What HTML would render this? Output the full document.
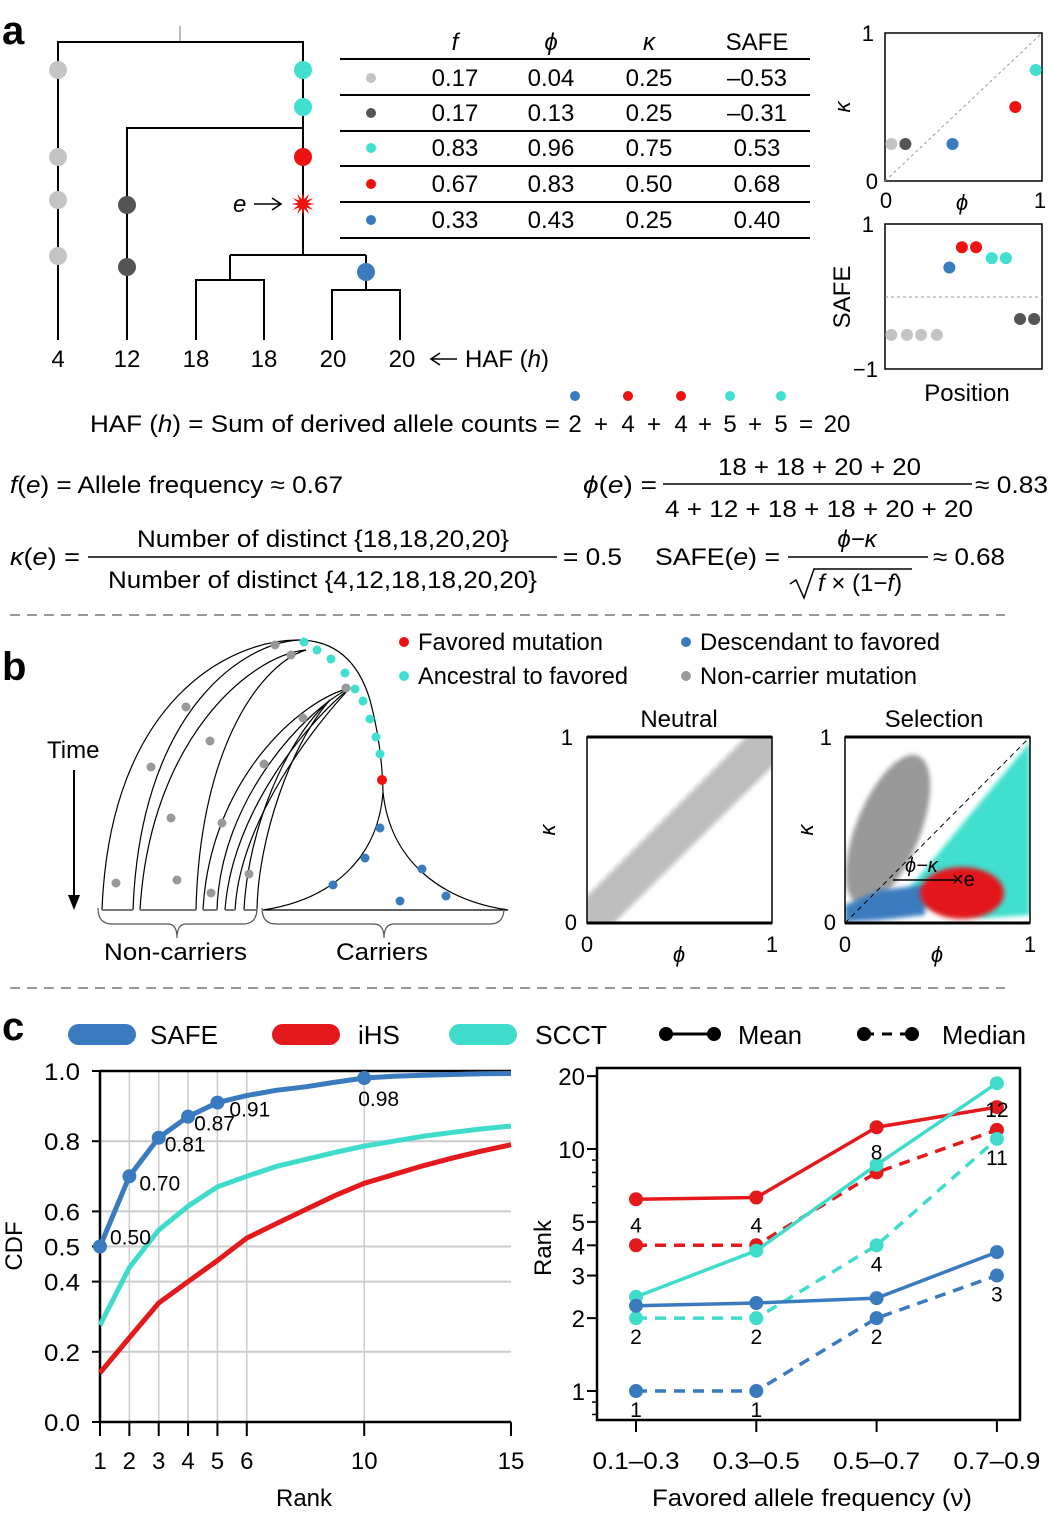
<!DOCTYPE html>
<html><head><meta charset="utf-8"><style>
html,body{margin:0;padding:0;background:#fff}
svg{display:block;font-family:"Liberation Sans",sans-serif}
</style></head><body>
<svg id="fig" width="1050" height="1515" viewBox="0 0 1050 1515" xmlns="http://www.w3.org/2000/svg">
<defs><filter id="bl" x="-20%" y="-20%" width="140%" height="140%"><feGaussianBlur stdDeviation="2.5"/></filter></defs>
<!-- PANEL A -->
<g>
<text x="2" y="44" font-size="40" font-weight="bold">a</text>
<g stroke="#000" stroke-width="2" fill="none">
<line x1="180" y1="26" x2="180" y2="42" stroke="#bbb"/>
<path d="M58,340 V42 H303 V255"/>
<path d="M127,340 V128 H303"/>
<path d="M230,255 H366 M230,255 V280 M196,340 V280 H264 V340 M366,255 V290 M332,340 V290 H400 V340"/>
</g>
<g>
<circle cx="58" cy="70" r="9" fill="#c4c4c4"/><circle cx="58" cy="157" r="9" fill="#c4c4c4"/><circle cx="58" cy="200" r="9" fill="#c4c4c4"/><circle cx="58" cy="256" r="9" fill="#c4c4c4"/>
<circle cx="127" cy="205" r="9" fill="#555"/><circle cx="127" cy="267" r="9" fill="#555"/>
<circle cx="303" cy="70" r="9" fill="#40dfcf"/><circle cx="303" cy="107" r="9" fill="#40dfcf"/>
<circle cx="303" cy="157" r="9" fill="#ee1111"/><circle cx="366" cy="272" r="9" fill="#3a7bbf"/>
<polygon id="star" fill="#ee1111"/>
</g>
<text x="233" y="212" font-size="24" font-style="italic">e</text>
<path d="M254,204 H280 M272,198 L281,204 L272,210" stroke="#000" stroke-width="1.6" fill="none"/>
<g font-size="24" text-anchor="middle">
<text x="58" y="367">4</text><text x="127" y="367">12</text><text x="196" y="367">18</text><text x="264" y="367">18</text><text x="333" y="367">20</text><text x="402" y="367">20</text>
</g>
<path d="M432,359 H457 M440,353 L431,359 L440,365" stroke="#000" stroke-width="1.6" fill="none"/>
<text x="465" y="367" font-size="24">HAF (<tspan font-style="italic">h</tspan>)</text>
<g font-size="24" text-anchor="middle">
<text x="455" y="50" font-style="italic">f</text><text x="551" y="50" font-style="italic">ϕ</text><text x="649" y="50" font-style="italic">κ</text><text x="757" y="50">SAFE</text>
<g stroke="#000" stroke-width="2"><line x1="340" y1="59" x2="810" y2="59"/><line x1="340" y1="95" x2="810" y2="95"/><line x1="340" y1="131" x2="810" y2="131"/><line x1="340" y1="166" x2="810" y2="166"/><line x1="340" y1="202" x2="810" y2="202"/><line x1="340" y1="238" x2="810" y2="238"/></g>
<circle cx="371" cy="78" r="5" fill="#c4c4c4"/><text x="455" y="86">0.17</text><text x="551" y="86">0.04</text><text x="649" y="86">0.25</text><text x="757" y="86">–0.53</text>
<circle cx="371" cy="113" r="5" fill="#555"/><text x="455" y="121">0.17</text><text x="551" y="121">0.13</text><text x="649" y="121">0.25</text><text x="757" y="121">–0.31</text>
<circle cx="371" cy="148" r="5" fill="#40dfcf"/><text x="455" y="156">0.83</text><text x="551" y="156">0.96</text><text x="649" y="156">0.75</text><text x="757" y="156">0.53</text>
<circle cx="371" cy="184" r="5" fill="#ee1111"/><text x="455" y="192">0.67</text><text x="551" y="192">0.83</text><text x="649" y="192">0.50</text><text x="757" y="192">0.68</text>
<circle cx="371" cy="220" r="5" fill="#3a7bbf"/><text x="455" y="228">0.33</text><text x="551" y="228">0.43</text><text x="649" y="228">0.25</text><text x="757" y="228">0.40</text>
</g>
<g font-size="22">
<rect x="885" y="33" width="157" height="148" fill="none" stroke="#000" stroke-width="1.5"/>
<line x1="885" y1="181" x2="1042" y2="33" stroke="#999" stroke-dasharray="3,3"/>
<text x="874" y="41" text-anchor="end">1</text><text x="878" y="189" text-anchor="end">0</text>
<text x="886" y="208" text-anchor="middle">0</text><text x="1040" y="208" text-anchor="middle">1</text>
<text x="962" y="210" text-anchor="middle" font-style="italic">ϕ</text>
<text transform="translate(850,107) rotate(-90)" text-anchor="middle" font-style="italic">κ</text>
<g id="mini1"></g>
</g>
<g font-size="22">
<rect x="885" y="224" width="157" height="145" fill="none" stroke="#000" stroke-width="1.5"/>
<line x1="885" y1="297" x2="1042" y2="297" stroke="#999" stroke-dasharray="3,3"/>
<text x="874" y="232" text-anchor="end">1</text><text x="878" y="377" text-anchor="end">−1</text>
<text transform="translate(850,297) rotate(-90)" text-anchor="middle" font-size="24">SAFE</text>
<text x="967" y="401" text-anchor="middle" font-size="24">Position</text>
<g id="mini2"></g>
</g>
<g>
<circle cx="575" cy="396" r="5" fill="#3a7bbf"/><circle cx="628" cy="396" r="5" fill="#ee1111"/><circle cx="681" cy="396" r="5" fill="#ee1111"/><circle cx="730" cy="396" r="5" fill="#40dfcf"/><circle cx="781" cy="396" r="5" fill="#40dfcf"/>
</g>
<g font-size="24">
<text x="90" y="432" textLength="470" lengthAdjust="spacingAndGlyphs">HAF (<tspan font-style="italic">h</tspan>) = Sum of derived allele counts =</text>
<g text-anchor="middle"><text x="575" y="432">2</text><text x="601" y="432">+</text><text x="628" y="432">4</text><text x="654" y="432">+</text><text x="681" y="432">4</text><text x="705" y="432">+</text><text x="730" y="432">5</text><text x="755" y="432">+</text><text x="781" y="432">5</text><text x="806" y="432">=</text><text x="837" y="432">20</text></g>
<text x="10" y="493" textLength="333" lengthAdjust="spacingAndGlyphs"><tspan font-style="italic">f</tspan>(<tspan font-style="italic">e</tspan>) = Allele frequency ≈ 0.67</text>
<text x="583" y="493" textLength="74" lengthAdjust="spacingAndGlyphs"><tspan font-style="italic">ϕ</tspan>(<tspan font-style="italic">e</tspan>) =</text>
<text x="718" y="475" textLength="203" lengthAdjust="spacingAndGlyphs">18 + 18 + 20 + 20</text>
<line x1="663" y1="484" x2="972" y2="484" stroke="#000" stroke-width="1.5"/>
<text x="665" y="517" textLength="308" lengthAdjust="spacingAndGlyphs">4 + 12 + 18 + 18 + 20 + 20</text>
<text x="975" y="493" textLength="73" lengthAdjust="spacingAndGlyphs">≈ 0.83</text>
<text x="10" y="565" textLength="70" lengthAdjust="spacingAndGlyphs"><tspan font-style="italic">κ</tspan>(<tspan font-style="italic">e</tspan>) =</text>
<text x="137" y="547" textLength="372" lengthAdjust="spacingAndGlyphs">Number of distinct {18,18,20,20}</text>
<line x1="88" y1="557" x2="557" y2="557" stroke="#000" stroke-width="1.5"/>
<text x="108" y="588" textLength="429" lengthAdjust="spacingAndGlyphs">Number of distinct {4,12,18,18,20,20}</text>
<text x="563" y="565" textLength="59" lengthAdjust="spacingAndGlyphs">= 0.5</text>
<text x="655" y="565" textLength="125" lengthAdjust="spacingAndGlyphs">SAFE(<tspan font-style="italic">e</tspan>) =</text>
<text x="857" y="547" text-anchor="middle" font-style="italic">ϕ−κ</text>
<line x1="788" y1="557" x2="928" y2="557" stroke="#000" stroke-width="1.5"/>
<path d="M790,584 L796,580 L804,598 L814,569 H912" fill="none" stroke="#000" stroke-width="1.5"/>
<text x="818" y="591"><tspan font-style="italic">f</tspan> × (1−<tspan font-style="italic">f</tspan>)</text>
<text x="933" y="565" textLength="72" lengthAdjust="spacingAndGlyphs">≈ 0.68</text>
</g>
<line x1="10" y1="615" x2="1005" y2="615" stroke="#999" stroke-width="2" stroke-dasharray="10,7"/>
</g>
<!-- PANEL B -->
<g>
<text x="2" y="680" font-size="40" font-weight="bold">b</text>
<g font-size="24">
<circle cx="404" cy="642" r="5" fill="#ee1111"/><text x="418" y="650" textLength="185" lengthAdjust="spacingAndGlyphs">Favored mutation</text>
<circle cx="404" cy="676" r="5" fill="#40dfcf"/><text x="418" y="684" textLength="210" lengthAdjust="spacingAndGlyphs">Ancestral to favored</text>
<circle cx="686" cy="642" r="5" fill="#3a7bbf"/><text x="700" y="650" textLength="240" lengthAdjust="spacingAndGlyphs">Descendant to favored</text>
<circle cx="686" cy="676" r="5" fill="#999"/><text x="700" y="684" textLength="217" lengthAdjust="spacingAndGlyphs">Non-carrier mutation</text>
</g>
<g fill="none" stroke="#000" stroke-width="1.2">
<path d="M298,640 Q352,640 370,700 Q382,745 383,792"/>
<path d="M298,640 C230,640 110,700 102,910"/>
<path d="M298,640 C235,645 140,720 133,910"/>
<path d="M306,650 C250,655 150,740 140,910"/>
<path d="M306,650 C265,662 200,740 196,910"/>
<path d="M350,688 C300,700 210,780 203,910"/>
<path d="M350,688 C305,710 220,800 217,910"/>
<path d="M350,688 C310,720 232,810 225,910"/>
<path d="M350,688 C315,725 240,820 235,910"/>
<path d="M330,700 C285,740 248,830 244,910"/>
<path d="M330,700 C290,745 258,840 257,910"/>
<path d="M383,792 C378,860 330,900 263,910 H508 C440,900 390,860 383,792"/>
<path d="M102,910 H133 M140,910 H196 M203,910 H217 M225,910 H235 M244,910 H257" stroke="#777" stroke-width="2"/>
<path d="M98,908 Q98,924 112,924 L168,924 Q177,924 177,938 Q177,924 186,924 L243,924 Q257,924 257,908" stroke="#555"/>
<path d="M262,908 Q262,924 276,924 L374,924 Q384,924 384,938 Q384,924 394,924 L490,924 Q504,924 504,908" stroke="#555"/>
</g>
<g>
<g fill="#40dfcf"><circle cx="304" cy="642" r="4.5"/><circle cx="317" cy="650" r="4.5"/><circle cx="331" cy="659" r="4.5"/><circle cx="345" cy="673" r="4.5"/><circle cx="355" cy="689" r="4.5"/><circle cx="363" cy="701" r="4.5"/><circle cx="370" cy="719" r="4.5"/><circle cx="376" cy="737" r="4.5"/><circle cx="380" cy="754" r="4.5"/></g>
<circle cx="382" cy="780" r="5" fill="#ee1111"/>
<g fill="#999"><circle cx="275" cy="645" r="4.5"/><circle cx="291" cy="655" r="4.5"/><circle cx="346" cy="688" r="4.5"/><circle cx="303" cy="718" r="4.5"/><circle cx="264" cy="764" r="4.5"/><circle cx="186" cy="707" r="4.5"/><circle cx="210" cy="741" r="4.5"/><circle cx="151" cy="767" r="4.5"/><circle cx="171" cy="818" r="4.5"/><circle cx="222" cy="823" r="4.5"/><circle cx="116" cy="883" r="4.5"/><circle cx="177" cy="880" r="4.5"/><circle cx="211" cy="893" r="4.5"/><circle cx="249" cy="874" r="4.5"/></g>
<g fill="#3a7bbf"><circle cx="380" cy="828" r="4.5"/><circle cx="365" cy="858" r="4.5"/><circle cx="422" cy="869" r="4.5"/><circle cx="333" cy="885" r="4.5"/><circle cx="446" cy="896" r="4.5"/><circle cx="400" cy="901" r="4.5"/></g>
</g>
<text x="47" y="758" font-size="24">Time</text>
<line x1="74" y1="770" x2="74" y2="900" stroke="#000" stroke-width="2"/>
<polygon points="68,895 80,895 74,910" fill="#000"/>
<text x="104" y="960" font-size="24" textLength="143" lengthAdjust="spacingAndGlyphs">Non-carriers</text>
<text x="336" y="960" font-size="24" textLength="92" lengthAdjust="spacingAndGlyphs">Carriers</text>
<g font-size="22">
<text x="679" y="727" text-anchor="middle" font-size="24">Neutral</text>
<clipPath id="neuclip"><rect x="587" y="737" width="185" height="186"/></clipPath>
<g clip-path="url(#neuclip)">
<polygon points="585,898 585,925 612,925 775,764 775,735 748,735" fill="#bdbdbd" filter="url(#bl)"/>
</g>
<rect x="587" y="737" width="185" height="186" fill="none" stroke="#000" stroke-width="1.5"/>
<line x1="587" y1="737" x2="772" y2="737" stroke="#000" stroke-width="3"/><line x1="587" y1="923" x2="772" y2="923" stroke="#000" stroke-width="3"/>
<text x="573" y="745" text-anchor="end">1</text><text x="577" y="930" text-anchor="end">0</text>
<text x="587" y="952" text-anchor="middle">0</text><text x="772" y="952" text-anchor="middle">1</text>
<text x="679" y="962" text-anchor="middle" font-style="italic">ϕ</text>
<text transform="translate(555,830) rotate(-90)" text-anchor="middle" font-style="italic">κ</text>
</g>
<g font-size="22">
<text x="934" y="727" text-anchor="middle" font-size="24">Selection</text>
<clipPath id="selclip"><rect x="845" y="737" width="185" height="186"/></clipPath>
<g clip-path="url(#selclip)">
<polygon points="898,902 1030,742 1030,915 985,918" fill="#40dfcf" filter="url(#bl)"/>
<ellipse cx="888" cy="830" rx="32" ry="80" transform="rotate(22 888 830)" fill="#999" filter="url(#bl)"/>
<polygon points="845,922 845,905 880,890 925,885 925,915 880,920" fill="#3a7bbf" filter="url(#bl)"/>
<ellipse cx="962" cy="893" rx="42" ry="26" fill="#e3191c" filter="url(#bl)"/>
</g>
<line x1="845" y1="923" x2="1030" y2="737" stroke="#000" stroke-dasharray="5,4"/>
<rect x="845" y="737" width="185" height="186" fill="none" stroke="#000" stroke-width="1.5"/>
<line x1="845" y1="737" x2="1030" y2="737" stroke="#000" stroke-width="3"/><line x1="845" y1="923" x2="1030" y2="923" stroke="#000" stroke-width="3"/>
<line x1="893" y1="880" x2="956" y2="880" stroke="#000" stroke-width="1.5"/>
<text x="905" y="872" font-style="italic" font-size="20">ϕ−κ</text>
<text x="952" y="886" font-size="20">×e</text>
<text x="832" y="745" text-anchor="end">1</text><text x="836" y="930" text-anchor="end">0</text>
<text x="845" y="952" text-anchor="middle">0</text><text x="1030" y="952" text-anchor="middle">1</text>
<text x="937" y="962" text-anchor="middle" font-style="italic">ϕ</text>
<text transform="translate(813,830) rotate(-90)" text-anchor="middle" font-style="italic">κ</text>
</g>
<line x1="10" y1="988" x2="1005" y2="988" stroke="#999" stroke-width="2" stroke-dasharray="10,7"/>
</g>
<!-- PANEL C -->
<g>
<text x="2" y="1040" font-size="40" font-weight="bold">c</text>
<g font-size="26">
<rect x="68" y="1024" width="68" height="21" rx="10.5" fill="#3a7bbf"/><text x="150" y="1044" textLength="68" lengthAdjust="spacingAndGlyphs">SAFE</text>
<rect x="272" y="1024" width="68" height="21" rx="10.5" fill="#e3191c"/><text x="358" y="1044">iHS</text>
<rect x="449" y="1024" width="68" height="21" rx="10.5" fill="#3fdccb"/><text x="535" y="1044" textLength="72" lengthAdjust="spacingAndGlyphs">SCCT</text>
<circle cx="666" cy="1034" r="7"/><line x1="666" y1="1034" x2="714" y2="1034" stroke="#000" stroke-width="3"/><circle cx="714" cy="1034" r="7"/><text x="738" y="1044" textLength="64" lengthAdjust="spacingAndGlyphs">Mean</text>
<circle cx="864" cy="1034" r="7"/><line x1="864" y1="1034" x2="912" y2="1034" stroke="#000" stroke-width="3" stroke-dasharray="10,8"/><circle cx="912" cy="1034" r="7"/><text x="942" y="1044" textLength="84" lengthAdjust="spacingAndGlyphs">Median</text>
</g>
<g id="cdf"></g>
<g id="rank"></g>
</g>
</svg>
<script>
const NS='http://www.w3.org/2000/svg';
function mk(tag,attrs,parent,txt){const e=document.createElementNS(NS,tag);for(const k in attrs)e.setAttribute(k,attrs[k]);if(txt!==undefined)e.textContent=txt;parent.appendChild(e);return e;}
(function(){let p=[];for(let i=0;i<24;i++){const r=i%2?5:12;const a=i*Math.PI/12;p.push((303+r*Math.cos(a)).toFixed(1)+','+(204+r*Math.sin(a)).toFixed(1));}document.getElementById('star').setAttribute('points',p.join(' '));})();

// ---- mini plots (panel a)
const miniColors=['#c4c4c4','#555','#40dfcf','#ee1111','#3a7bbf'];
const miniPhi=[0.04,0.13,0.96,0.83,0.43];
const miniKappa=[0.25,0.25,0.75,0.50,0.25];
const safePositions=[[0.04,0.14,0.23,0.33],[0.86,0.95],[0.68,0.77],[0.49,0.58],[0.41]];
const safeVals=[-0.53,-0.31,0.53,0.68,0.40];
const m1=document.getElementById('mini1'),m2=document.getElementById('mini2');
const mx=v=>885+v*157, my=v=>181-v*148, sy=v=>296.5-v*72.5;
miniPhi.forEach((p,i)=>{
  const c=mk('circle',{cx:mx(p),cy:my(miniKappa[i]),r:6,fill:miniColors[i]},m1);
  
  
  safePositions[i].forEach(pos=>{
    const d=mk('circle',{cx:mx(pos),cy:sy(safeVals[i]),r:6,fill:miniColors[i]},m2);
    
    
  });
});

// ---- CDF chart
const cdfRanks=[1,2,3,4,5,6,7,8,9,10,11,12,13,14,15];
const cdfSafe=[0.50,0.70,0.81,0.87,0.91,0.93,0.945,0.955,0.968,0.98,0.985,0.988,0.99,0.992,0.993];
const cdfScct=[0.276,0.44,0.547,0.615,0.67,0.70,0.728,0.748,0.768,0.786,0.80,0.814,0.825,0.835,0.843];
const cdfIhs=[0.14,0.24,0.339,0.40,0.46,0.524,0.565,0.605,0.645,0.68,0.705,0.73,0.752,0.772,0.79];
const cdfMarkRanks=[1,2,3,4,5,10];
const cdfMarkLabels=['0.50','0.70','0.81','0.87','0.91','0.98'];
const cdfYTicks=[0,0.2,0.4,0.5,0.6,0.8,1.0];
const cdfYTickLabels=['0.0','0.2','0.4','0.5','0.6','0.8','1.0'];
const cdfXTicks=[1,2,3,4,5,6,10,15];
const L={x0:100,x1:511,y0:1422,y1:1071};
const cx=r=>L.x0+(r-1)*(L.x1-L.x0)/14, cy=v=>L.y0-v*(L.y0-L.y1);
const cdf=document.getElementById('cdf');
cdfYTicks.forEach((t,i)=>{
  if(t>0&&t<1){const g=mk('line',{x1:L.x0,x2:L.x1,y1:cy(t),y2:cy(t),stroke:'#ccc','stroke-width':2},cdf);
  
  }
  mk('line',{x1:L.x0-8,x2:L.x0,y1:cy(t),y2:cy(t),stroke:'#000','stroke-width':2},cdf);
  const tl=mk('text',{x:L.x0-20,y:cy(t)+9,'text-anchor':'end','font-size':24,textLength:36,lengthAdjust:'spacingAndGlyphs'},cdf,cdfYTickLabels[i]);
  
  
});
cdfXTicks.forEach(t=>{
  if(t<15){const g=mk('line',{x1:cx(t),x2:cx(t),y1:L.y1,y2:L.y0,stroke:'#ccc','stroke-width':1.5},cdf);
  
  }
  mk('line',{x1:cx(t),x2:cx(t),y1:L.y0,y2:L.y0+14,stroke:'#000','stroke-width':2},cdf);
  const tl=mk('text',{x:cx(t),y:1469,'text-anchor':'middle','font-size':24},cdf,String(t));
  
  
});
mk('path',{d:`M${L.x0},${L.y1} H${L.x1} M${L.x0},${L.y1} V${L.y0} H${L.x1}`,stroke:'#000','stroke-width':2.5,fill:'none'},cdf);
function cdfLine(arr,col,name){
  const p=mk('polyline',{points:cdfRanks.map((r,i)=>cx(r)+','+cy(arr[i])).join(' '),fill:'none',stroke:col,'stroke-width':5,'stroke-linejoin':'round'},cdf);
  
  
}
cdfLine(cdfIhs,'#e3191c','ihs-cdf-line');
cdfLine(cdfScct,'#3fdccb','scct-cdf-line');
cdfLine(cdfSafe,'#3a7bbf','safe-cdf-line');
const labOff=[[10,-2],[10,14],[6,14],[6,14],[12,14],[-6,28]];
cdfMarkRanks.forEach((r,i)=>{
  const v=cdfSafe[r-1];
  const c=mk('circle',{cx:cx(r),cy:cy(v),r:7,fill:'#3a7bbf'},cdf);
  
  
  const t=mk('text',{x:cx(r)+labOff[i][0],y:cy(v)+labOff[i][1],'font-size':21},cdf,cdfMarkLabels[i]);
  
  
});
const cdfX=mk('text',{x:304,y:1506,'text-anchor':'middle','font-size':24},cdf,'Rank');


const cdfY=mk('text',{transform:'translate(22,1246) rotate(-90)','text-anchor':'middle','font-size':24},cdf,'CDF');



// ---- Rank chart (log y)
const rkCats=['0.1–0.3','0.3–0.5','0.5–0.7','0.7–0.9'];
const safeMean=[2.25,2.31,2.42,3.75];
const safeMedian=[1,1,2,3];
const ihsMean=[6.2,6.3,12.3,14.9];
const ihsMedian=[4,4,8,12];
const scctMean=[2.45,3.8,8.6,18.7];
const scctMedian=[2,2,4,11];
const rkYTicks=[1,2,3,4,5,10,20];
const rkMinorTicks=[0.8,0.9,6,7,8,9];
const R={x0:597,x1:1020,y0:1420,y1:1068};
const rx=i=>636+i*120.3, ry=v=>1391-Math.log10(v)*242;
const rk=document.getElementById('rank');
mk('rect',{x:R.x0,y:R.y1,width:R.x1-R.x0,height:R.y0-R.y1,fill:'none',stroke:'#000','stroke-width':2.5},rk);
rkYTicks.forEach(t=>{
  mk('line',{x1:R.x0-10,x2:R.x0,y1:ry(t),y2:ry(t),stroke:'#000','stroke-width':2},rk);
  const tl=mk('text',{x:R.x0-12,y:ry(t)+9,'text-anchor':'end','font-size':24},rk,String(t));
  
  
});
rkMinorTicks.forEach(t=>{mk('line',{x1:R.x0-5,x2:R.x0,y1:ry(t),y2:ry(t),stroke:'#000','stroke-width':1.5},rk);});
rkCats.forEach((c,i)=>{
  mk('line',{x1:rx(i),x2:rx(i),y1:R.y0,y2:R.y0+12,stroke:'#000','stroke-width':2},rk);
  const tl=mk('text',{x:rx(i),y:1469,'text-anchor':'middle','font-size':24,textLength:87,lengthAdjust:'spacingAndGlyphs'},rk,c);
  
  
});
function rkSeries(arr,col,dash,name){
  const p=mk('polyline',{points:arr.map((v,i)=>rx(i)+','+ry(v)).join(' '),fill:'none',stroke:col,'stroke-width':3.5},rk);
  if(dash)p.setAttribute('stroke-dasharray','11,8');
  
  
  arr.forEach((v,i)=>{
    const c=mk('circle',{cx:rx(i),cy:ry(v),r:7,fill:col},rk);
    
    
  });
}
rkSeries(ihsMedian,'#e3191c',true,'ihs-median-line');
rkSeries(scctMedian,'#3fdccb',true,'scct-median-line');
rkSeries(safeMedian,'#3a7bbf',true,'safe-median-line');
rkSeries(ihsMean,'#e3191c',false,'ihs-mean-line');
rkSeries(scctMean,'#3fdccb',false,'scct-mean-line');
rkSeries(safeMean,'#3a7bbf',false,'safe-mean-line');
const meds=[ihsMedian,scctMedian,safeMedian];
const medDy=[-13,26,26];
meds.forEach((arr,s)=>arr.forEach((v,i)=>{
  const t=mk('text',{x:rx(i),y:ry(v)+medDy[s],'text-anchor':'middle','font-size':21},rk,String(v));
  
  
}));
const rkX=mk('text',{x:812,y:1506,'text-anchor':'middle','font-size':24,textLength:320,lengthAdjust:'spacingAndGlyphs'},rk,'Favored allele frequency (ν)');


const rkY=mk('text',{transform:'translate(551,1248) rotate(-90)','text-anchor':'middle','font-size':24},rk,'Rank');


</script>
</body></html>
